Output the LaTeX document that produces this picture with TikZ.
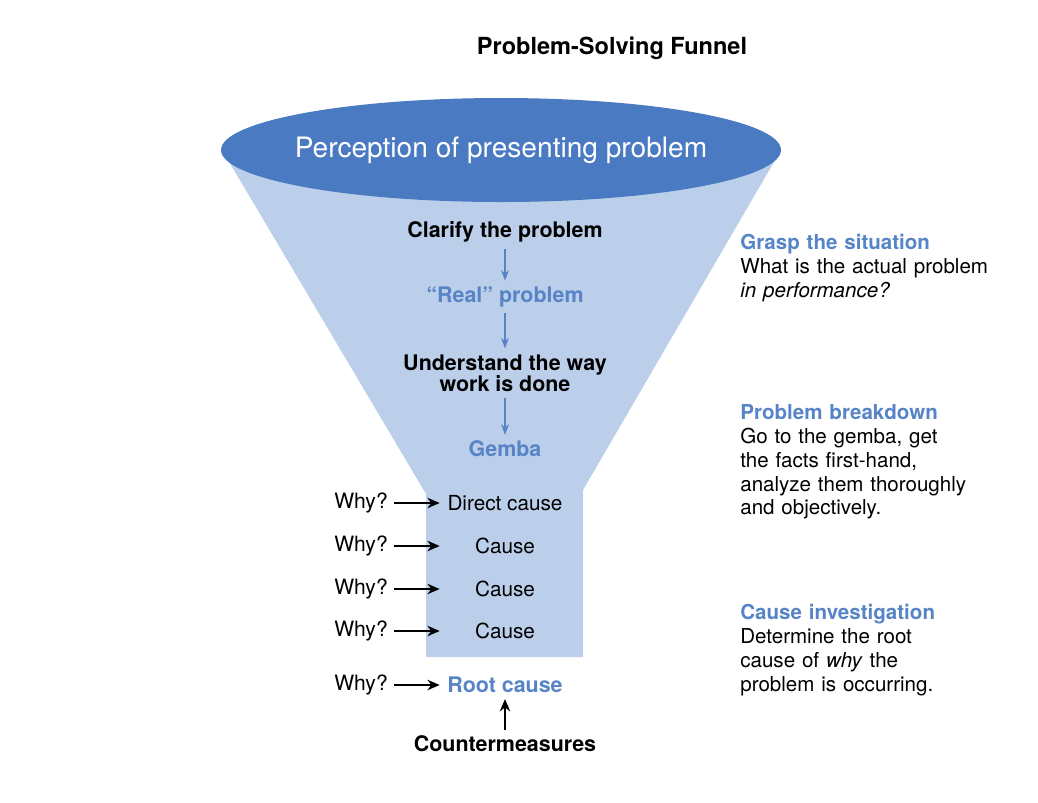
\documentclass[tikz,border=0pt]{standalone}
\usepackage{fontspec}
\setmainfont{TeX Gyre Heros}
\usetikzlibrary{arrows.meta}
\definecolor{bleu}{RGB}{74,122,194}
\definecolor{bleuclair}{RGB}{188,207,234}
\definecolor{bleutexte}{RGB}{86,132,198}
\tikzstyle{titre}=[font=\bfseries\fontsize{13.4}{16}\selectfont]
\tikzstyle{ouverture}=[font=\fontsize{16}{19}\selectfont,text=white]
\tikzstyle{etape}=[font=\bfseries\fontsize{12.2}{13}\selectfont,align=center,text=black]
\tikzstyle{etape1}=[etape,text=bleutexte]
\tikzstyle{pourquoi}=[font=\fontsize{12}{14}\selectfont]
\tikzstyle{cause}=[font=\fontsize{11.8}{14}\selectfont,minimum width=2.6cm]
\tikzstyle{cote}=[font=\fontsize{11.7}{13.6}\selectfont,align=left,anchor=north west,
inner sep=0pt,text width=6cm]
\tikzstyle{fleche}=[-{Stealth[length=6pt,width=4.5pt]},bleutexte,semithick]
\tikzstyle{fleche1}=[-{Stealth[length=7pt,width=6pt]},black,thick]

\begin{document}
\begin{tikzpicture}[x=0.02cm,y=-0.02cm]
      \useasboundingbox (0,0) rectangle (1038,802);
      % entonnoir
      \fill[bleuclair] (222,150) -- (426,494) -- (426,657) -- (583,657) -- (583,490) -- (781,150) -- cycle;
      \fill[bleu] (501,150) ellipse (280 and 52);
      \node[titre] (T) at (612,48) {Problem-Solving Funnel};
      \node[ouverture] (P) at (501,150) {Perception of presenting problem};

      \node[etape] (C) at (505,232) {Clarify the problem};
      \node[etape1] (R) at (505,297) {“Real” problem};
      \node[etape] (U) at (505,373) {Understand the way\\[-1pt]work is done};
      \node[etape1] (G) at (505,449) {Gemba};
      \draw[fleche] (C) -- (R);
      \draw[fleche] (R) -- (U);
      \draw[fleche] (U) -- (G);

      % les cinq pourquoi
      \node[pourquoi] (W1) at (361,503) {Why?};
      \node[pourquoi] (W2) at (361,546) {Why?};
      \node[pourquoi] (W3) at (361,589) {Why?};
      \node[pourquoi] (W4) at (361,631) {Why?};
      \node[pourquoi] (W5) at (361,685) {Why?};
      \node[cause] (D) at (505,503) {Direct cause};
      \node[cause] (C2) at (505,546) {Cause};
      \node[cause] (C3) at (505,589) {Cause};
      \node[cause] (C4) at (505,631) {Cause};
      \node[cause,font=\bfseries\fontsize{12.2}{14}\selectfont,text=bleutexte] (RC) at (505,685) {Root cause};
      \draw[fleche1] (W1) -- (D);
      \draw[fleche1] (W2) -- (C2);
      \draw[fleche1] (W3) -- (C3);
      \draw[fleche1] (W4) -- (C4);
      \draw[fleche1] (W5) -- (RC);
      \node[etape] (CM) at (505,744) {Countermeasures};
      \draw[fleche1] (CM) -- (RC);

      % colonne de droite
      \node[cote] (S1) at (740,234) {{\bfseries\color{bleutexte}Grasp the situation}\\What is the actual problem\\\textit{in performance?}};
      \node[cote] (S2) at (740,404) {{\bfseries\color{bleutexte}Problem breakdown}\\Go to the gemba, get\\the facts first-hand,\\analyze them thoroughly\\and objectively.};
      \node[cote] (S3) at (740,604) {{\bfseries\color{bleutexte}Cause investigation}\\Determine the root\\cause of \textit{why} the\\problem is occurring.};
\end{tikzpicture}
\end{document}
